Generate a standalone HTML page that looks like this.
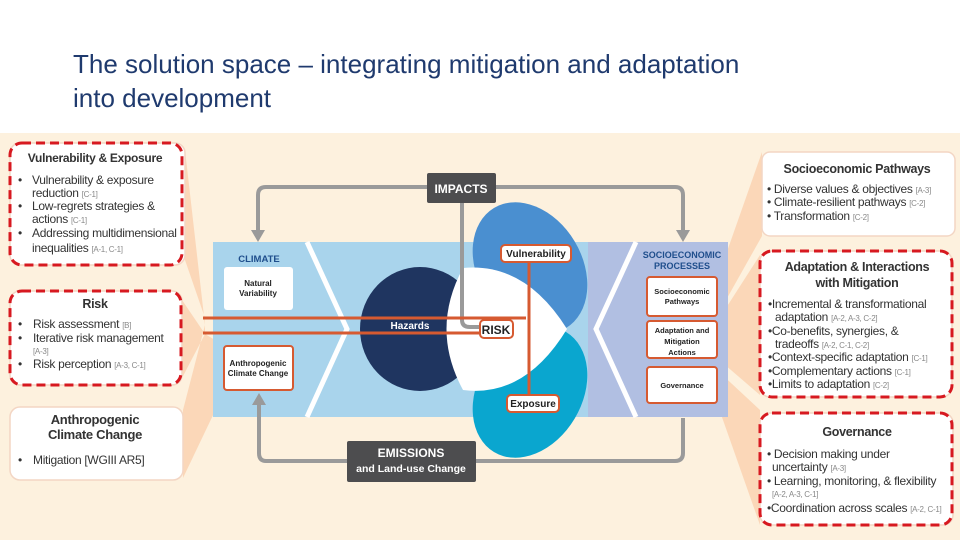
<!DOCTYPE html>
<html><head><meta charset="utf-8"><style>
html,body{margin:0;padding:0;background:#fff;}
svg{display:block;font-family:"Liberation Sans","DejaVu Sans",sans-serif;}
</style></head><body>
<svg width="960" height="540" viewBox="0 0 960 540" xmlns="http://www.w3.org/2000/svg">
<rect width="960" height="540" fill="#fff"/>
<text x="73" y="73" font-size="26" fill="#1f3a6e">The solution space – integrating mitigation and adaptation</text>
<text x="73" y="107" font-size="26" fill="#1f3a6e">into development</text>
<rect x="0" y="133" width="960" height="407" fill="#fdf1de"/>

<!-- fans -->
<g fill="#fbd7b8">
<polygon points="185,150 185,260 205,318 205,334 182,300 182,378 205,334 225,346 225,390 183,478 183,410 205,325"/>
<polygon points="717,280 762,152 762,236 717,316"/>
<polygon points="717,322 760,255 760,395 717,358"/>
<polygon points="717,370 760,410 760,525 717,403"/>
</g>

<!-- bands -->
<rect x="213" y="242" width="378" height="175" fill="#a9d4ec"/>
<rect x="588" y="242" width="140" height="175" fill="#b1bfe2"/>
<polyline points="307,242 347,329 307,417" fill="none" stroke="#fff" stroke-width="5"/>
<polyline points="636,242 596,329 636,417" fill="none" stroke="#fff" stroke-width="5"/>

<!-- venn -->
<ellipse cx="530" cy="268" rx="70" ry="52" transform="rotate(59 530 268)" fill="#4a8fd0"/>
<ellipse cx="530" cy="392" rx="70" ry="52" transform="rotate(-59 530 392)" fill="#0aa6cf"/>
<ellipse cx="420" cy="329" rx="60" ry="62" fill="#1f3560"/>
<path d="M463,268 Q525,262 567,329 Q525,398 463,390 Q430,329 463,268 Z" fill="#fff"/>
<text x="410" y="329" font-size="10" font-weight="bold" fill="#fff" text-anchor="middle">Hazards</text>

<!-- gray loops -->
<g fill="none" stroke="#9a9a9a" stroke-width="4">
<path d="M430,187 H266 Q258,187 258,195 V232"/>
<path d="M494,187 H675 Q683,187 683,195 V232"/>
<path d="M462,203 V320 Q462,327 470,327 H482"/>
<path d="M350,461 H266 Q259,461 259,453 V403"/>
<path d="M476,461 H675 Q683,461 683,453 V418"/>
</g>
<g fill="#9a9a9a">
<polygon points="251,230 265,230 258,242"/>
<polygon points="676,230 690,230 683,242"/>
<polygon points="252,405 266,405 259,393"/>
</g>

<!-- orange lines -->
<g stroke="#d65a31" stroke-width="3" fill="none">
<line x1="203" y1="318" x2="526" y2="318"/>
<line x1="203" y1="333" x2="481" y2="333"/>
<line x1="529" y1="262" x2="529" y2="397"/>
</g>

<rect x="427" y="173" width="69" height="30" rx="2" fill="#4d4d4f"/>
<text x="461" y="193" font-size="12" font-weight="bold" fill="#fff" text-anchor="middle">IMPACTS</text>
<rect x="347" y="441" width="129" height="41" rx="2" fill="#4d4d4f"/>
<text x="411" y="457" font-size="12" font-weight="bold" fill="#fff" text-anchor="middle">EMISSIONS</text>
<text x="411" y="472" font-size="10.5" font-weight="bold" fill="#fff" text-anchor="middle">and Land-use Change</text>

<g stroke="#d65a31" stroke-width="2" fill="#fff">
<rect x="501" y="245" width="70" height="17" rx="4"/>
<rect x="480" y="320" width="33" height="18" rx="4"/>
<rect x="507" y="395" width="52" height="17" rx="4"/>
<rect x="224" y="346" width="69" height="44" rx="3"/>
<rect x="647" y="277" width="70" height="39" rx="3"/>
<rect x="647" y="321" width="70" height="37" rx="3"/>
<rect x="647" y="367" width="70" height="36" rx="3"/>
</g>
<rect x="224" y="267" width="69" height="43" rx="3" fill="#fff"/>
<g font-weight="bold" fill="#222" text-anchor="middle">
<text x="536" y="257" font-size="10">Vulnerability</text>
<text x="496" y="334" font-size="12">RISK</text>
<text x="533" y="407" font-size="10">Exposure</text>
<text x="258" y="286" font-size="8">Natural</text>
<text x="258" y="296" font-size="8">Variability</text>
<text x="258" y="366" font-size="8">Anthropogenic</text>
<text x="258" y="376" font-size="8">Climate Change</text>
<text x="682" y="294" font-size="7.5">Socioeconomic</text>
<text x="682" y="304" font-size="7.5">Pathways</text>
<text x="682" y="333" font-size="7.5">Adaptation and</text>
<text x="682" y="344" font-size="7.5">Mitigation</text>
<text x="682" y="355" font-size="7.5">Actions</text>
<text x="682" y="388" font-size="7.5">Governance</text>
</g>
<text x="259" y="262" font-size="9.5" font-weight="bold" fill="#1f4e8c" text-anchor="middle">CLIMATE</text>
<text x="682" y="258" font-size="9" font-weight="bold" fill="#1f4e8c" text-anchor="middle">SOCIOECONOMIC</text>
<text x="682" y="269" font-size="9" font-weight="bold" fill="#1f4e8c" text-anchor="middle">PROCESSES</text>

<!-- boxes -->
<g fill="#fff" stroke="#f3d6c4" stroke-width="1.5">
<rect x="10" y="143" width="175" height="122" rx="10"/>
<rect x="10" y="291" width="172" height="94" rx="10"/>
<rect x="10" y="407" width="173" height="73" rx="10"/>
<rect x="762" y="152" width="193" height="84" rx="8"/>
<rect x="760" y="251" width="192" height="146" rx="10"/>
<rect x="760" y="413" width="193" height="112" rx="10"/>
</g>
<g fill="none" stroke="#d71920" stroke-width="3" stroke-dasharray="9,5">
<rect x="10" y="143" width="172" height="122" rx="12"/>
<rect x="10" y="291" width="171" height="94" rx="12"/>
<rect x="760" y="251" width="192" height="146" rx="12"/>
<rect x="760" y="413" width="192" height="112" rx="12"/>
</g>

<g font-size="12" fill="#333" letter-spacing="-0.3">
<text x="95" y="162" font-weight="bold" text-anchor="middle" font-size="12">Vulnerability &amp; Exposure</text>
<text x="18" y="184">•</text><text x="32" y="184">Vulnerability &amp; exposure</text>
<text x="32" y="197">reduction <tspan fill="#888" font-size="8">[C-1]</tspan></text>
<text x="18" y="210">•</text><text x="32" y="210">Low-regrets strategies &amp;</text>
<text x="32" y="223">actions <tspan fill="#888" font-size="8">[C-1]</tspan></text>
<text x="18" y="237">•</text><text x="32" y="237">Addressing multidimensional</text>
<text x="32" y="252">inequalities <tspan fill="#888" font-size="8">[A-1, C-1]</tspan></text>

<text x="95" y="308" font-weight="bold" text-anchor="middle" font-size="12.5">Risk</text>
<text x="18" y="328">•</text><text x="33" y="328">Risk assessment <tspan fill="#888" font-size="8">[B]</tspan></text>
<text x="18" y="342">•</text><text x="33" y="342">Iterative risk management</text>
<text x="33" y="354" fill="#888" font-size="8">[A-3]</text>
<text x="18" y="368">•</text><text x="33" y="368">Risk perception <tspan fill="#888" font-size="8">[A-3, C-1]</tspan></text>

<text x="95" y="424" font-weight="bold" text-anchor="middle" font-size="13">Anthropogenic</text>
<text x="95" y="439" font-weight="bold" text-anchor="middle" font-size="13">Climate Change</text>
<text x="18" y="464">•</text><text x="33" y="464">Mitigation [WGIII AR5]</text>

<text x="857" y="173" font-weight="bold" text-anchor="middle" font-size="12.5">Socioeconomic Pathways</text>
<text x="767" y="193">• Diverse values &amp; objectives <tspan fill="#888" font-size="8">[A-3]</tspan></text>
<text x="767" y="206">• Climate-resilient pathways <tspan fill="#888" font-size="8">[C-2]</tspan></text>
<text x="767" y="220">• Transformation <tspan fill="#888" font-size="8">[C-2]</tspan></text>

<text x="857" y="271" font-weight="bold" text-anchor="middle" font-size="12.5">Adaptation &amp; Interactions</text>
<text x="857" y="287" font-weight="bold" text-anchor="middle" font-size="12.5">with Mitigation</text>
<text x="768" y="308">•Incremental &amp; transformational</text>
<text x="775" y="321">adaptation <tspan fill="#888" font-size="8">[A-2, A-3, C-2]</tspan></text>
<text x="768" y="335">•Co-benefits, synergies, &amp;</text>
<text x="775" y="348">tradeoffs <tspan fill="#888" font-size="8">[A-2, C-1, C-2]</tspan></text>
<text x="768" y="361">•Context-specific adaptation <tspan fill="#888" font-size="8">[C-1]</tspan></text>
<text x="768" y="375">•Complementary actions <tspan fill="#888" font-size="8">[C-1]</tspan></text>
<text x="768" y="388">•Limits to adaptation <tspan fill="#888" font-size="8">[C-2]</tspan></text>

<text x="857" y="436" font-weight="bold" text-anchor="middle" font-size="12.5">Governance</text>
<text x="767" y="458">• Decision making under</text>
<text x="772" y="471">uncertainty <tspan fill="#888" font-size="8">[A-3]</tspan></text>
<text x="767" y="485">• Learning, monitoring, &amp; flexibility</text>
<text x="772" y="497" fill="#888" font-size="8">[A-2, A-3, C-1]</text>
<text x="767" y="512">•Coordination across scales <tspan fill="#888" font-size="8">[A-2, C-1]</tspan></text>
</g>
</svg>
</body></html>
